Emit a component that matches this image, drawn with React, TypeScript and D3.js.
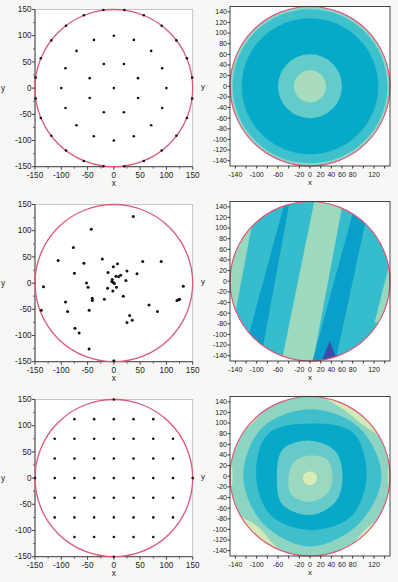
import React from 'react';
import * as d3 from 'd3';

const width = 398;
const height = 582;
const rowStep = 195;
const font = '"Liberation Sans", Arial, sans-serif';
const ringStroke = '#dc5878';

const leftBox = { left: 35, right: 192.7, top: 9.5, bottom: 166.7 };
const rightBox = { left: 230, right: 390, top: 6.5, bottom: 166 };

const leftTicks = [-150, -100, -50, 0, 50, 100, 150];
const leftMinorTicks = [-125, -75, -25, 25, 75, 125];
const rightTicks = [-140, -120, -100, -80, -60, -40, -20, 0, 20, 40, 60, 80, 100, 120, 140];
const rightXLabels = [-140, -100, -60, -20, 0, 20, 40, 60, 80, 120];

// row 1: sites on rings
const ringSites: [number, number][] = [
  [0, 0],
  [46, 19], [19, 46], [-19, 46], [-46, 19], [-46, -19], [-19, -46], [19, -46], [46, -19],
  [100, 0], [92, 38], [71, 71], [38, 92], [0, 100], [-38, 92], [-71, 71], [-92, 38],
  [-100, 0], [-92, -38], [-71, -71], [-38, -92], [0, -100], [38, -92], [71, -71], [92, -38],
  [149, 20], [139, 57], [119, 91], [91, 119], [57, 139], [20, 149],
  [-20, 149], [-57, 139], [-91, 119], [-119, 91], [-139, 57], [-149, 20],
  [-149, -20], [-139, -57], [-119, -91], [-91, -119], [-57, -139], [-20, -149],
  [20, -149], [57, -139], [91, -119], [119, -91], [139, -57], [149, -20],
];

// row 2: scattered sites
const scatterSites: [number, number][] = [
  [37, 127], [-43, 103], [-77, 68], [-106, 43], [-22, 46], [-57, 38], [-75, 19],
  [7, 37], [-1, 31], [-11, 20], [4, 13], [13, 15], [9, 12], [25, 23], [44, 18],
  [55, 41], [90, 41], [23, 5], [-3, 7], [-4, 3], [-1, 1], [1, -1], [-134, -7],
  [-52, 0], [-49, -8], [-12, -10], [5, -8], [-2, -15], [18, -25], [-41, -29],
  [-41, -33], [-18, -31], [-92, -36], [-138, -52], [-88, -54], [-47, -52],
  [67, -42], [83, -54], [30, -62], [35, -71], [25, -75], [-74, -86], [-66, -95],
  [-47, -126], [132, -6], [120, -33], [123, -32], [125, -31], [0, -148],
];

// row 3: regular grid of sites
const gridSites: [number, number][] = [
  [0, 150],
  [-75, 112.5], [-37.5, 112.5], [0, 112.5], [37.5, 112.5], [75, 112.5],
  [-112.5, 75], [-75, 75], [-37.5, 75], [0, 75], [37.5, 75], [75, 75], [112.5, 75],
  [-112.5, 37.5], [-75, 37.5], [-37.5, 37.5], [0, 37.5], [37.5, 37.5], [75, 37.5], [112.5, 37.5],
  [-150, 0], [-112.5, 0], [-75, 0], [-37.5, 0], [0, 0], [37.5, 0], [75, 0], [112.5, 0], [150, 0],
  [-112.5, -37.5], [-75, -37.5], [-37.5, -37.5], [0, -37.5], [37.5, -37.5], [75, -37.5], [112.5, -37.5],
  [-112.5, -75], [-75, -75], [-37.5, -75], [0, -75], [37.5, -75], [75, -75], [112.5, -75],
  [-75, -112.5], [-37.5, -112.5], [0, -112.5], [37.5, -112.5], [75, -112.5],
  [0, -150],
];

// contour 1: concentric bands (outer radius of each band)
const ringBandRadii = [150, 145, 128, 60, 30];
const ringBandColors = ['#8cd4c3', '#3ec0cd', '#05aac8', '#64cbcb', '#a9dcbf'];

// contour 2: tilted stripes over a medium teal base
const stripeBase = '#36bdcd';
const stripeColors = ['#98d8bd', '#0a9fcb', '#9cd9bd', '#0a9fcb', '#3a4ba8', '#98d8bd'];
const stripeShapes: [number, number][][] = [
  [[-104, 131], [-142, -70], [-220, -70], [-220, 131]],
  [[-47, 150], [-38, 150], [-89, -128], [-120, -120]],
  [[9, 155], [63, 155], [4, -160], [-55, -160]],
  [[86, 150], [108, 130], [48, -150], [2, -160]],
  [[37, -113], [18, -160], [56, -160]],
  [[147, 25], [121, -78], [170, -78], [170, 25]],
];

// contour 3: wobbly bands, boundary radius by angle (degrees)
const edgeAngles = [0, 22.5, 45, 67.5, 90, 112.5, 135, 157.5, 180, 202.5, 225, 247.5, 270, 292.5, 315, 337.5];
const bandAngles = [0, 45, 90, 135, 180, 225, 270, 315];
const wobblyBase = '#d3eab6';
const wobblyBands = [
  { color: '#8dd4c3', angles: edgeAngles, radii: [146, 156, 138, 142, 156, 156, 147, 156, 145, 156, 136, 148, 156, 156, 144, 156] },
  { color: '#3fbfcc', angles: bandAngles, radii: [134, 130, 126, 128, 125, 125, 132, 128] },
  { color: '#07a8c8', angles: bandAngles, radii: [106, 115, 99, 112, 101, 104, 101, 108] },
  { color: '#66cacb', angles: bandAngles, radii: [61, 67, 67, 72, 62, 74, 73, 68] },
  { color: '#9ad8c0', angles: bandAngles, radii: [42, 45, 39, 40, 40, 49, 48, 46] },
  { color: '#d8ecb5', angles: bandAngles, radii: [13, 10, 9, 10, 13, 15, 17, 15] },
];

function leftScales(off: number) {
  const x = d3.scaleLinear().domain([-150, 150]).range([leftBox.left, leftBox.right]);
  const y = d3.scaleLinear().domain([-150, 150]).range([leftBox.bottom + off, leftBox.top + off]);
  return { x, y };
}

function rightScales(off: number) {
  const x = d3.scaleLinear().domain([-150, 150]).range([rightBox.left, rightBox.right]);
  const y = d3.scaleLinear().domain([-150, 150]).range([rightBox.bottom + off, rightBox.top + off]);
  return { x, y };
}

function ScatterPanel({ sites, off, r }: { sites: [number, number][]; off: number; r: number }) {
  const { x, y } = leftScales(off);
  const b = y(-150);
  const t = y(150);
  return (
    <g>
      <rect x={x(-150)} y={t} width={x(150) - x(-150)} height={b - t} fill="#fff" stroke="#b8b8b8" strokeWidth={0.8} />
      <line x1={x(-150)} x2={x(150)} y1={b} y2={b} stroke="#444" />
      <line x1={x(-150)} x2={x(-150)} y1={t} y2={b} stroke="#444" />
      <ellipse cx={x(0)} cy={y(0)} rx={x(150) - x(0)} ry={y(0) - y(150)} fill="none" stroke={ringStroke} strokeWidth={1.3} />
      {sites.map(([px, py], i) => (
        <circle key={i} cx={x(px)} cy={y(py)} r={r} fill="#111" />
      ))}
      {leftTicks.map(v => (
        <g key={'t' + v}>
          <line x1={x(-150)} x2={x(-150) - 3} y1={y(v)} y2={y(v)} stroke="#444" />
          <line x1={x(v)} x2={x(v)} y1={b} y2={b + 3} stroke="#444" />
          <text x={x(-150) - 3.5} y={y(v)} dy="0.34em" textAnchor="end" fontSize={8.2} fontFamily={font} fill="#222">{v}</text>
          <text x={x(v)} y={b + 11.5} textAnchor="middle" fontSize={8.2} fontFamily={font} fill="#222">{v}</text>
        </g>
      ))}
      {leftMinorTicks.map(v => (
        <g key={'m' + v}>
          <line x1={x(-150)} x2={x(-150) - 2} y1={y(v)} y2={y(v)} stroke="#666" />
          <line x1={x(v)} x2={x(v)} y1={b} y2={b + 2} stroke="#666" />
        </g>
      ))}
      <text x={x(0)} y={b + 19.5} textAnchor="middle" fontSize={8.2} fontFamily={font} fill="#222">x</text>
      <text x={3} y={y(0)} dy="0.34em" textAnchor="middle" fontSize={8.2} fontFamily={font} fill="#222">y</text>
    </g>
  );
}

function ContourPanel({ off, id, children }: { off: number; id: string; children: (x: any, y: any) => React.ReactNode }) {
  const { x, y } = rightScales(off);
  const b = y(-150);
  const t = y(150);
  const rx = x(150) - x(0);
  const ry = y(0) - y(150);
  return (
    <g>
      <defs>
        <clipPath id={id}>
          <ellipse cx={x(0)} cy={y(0)} rx={rx} ry={ry} />
        </clipPath>
      </defs>
      <rect x={x(-150)} y={t} width={x(150) - x(-150)} height={b - t} fill="#fff" />
      <g clipPath={`url(#${id})`}>{children(x, y)}</g>
      <ellipse cx={x(0)} cy={y(0)} rx={rx} ry={ry} fill="none" stroke={ringStroke} strokeWidth={1.2} />
      <rect x={x(-150)} y={t} width={x(150) - x(-150)} height={b - t} fill="none" stroke="#333" strokeWidth={0.9} />
      {rightTicks.map(v => (
        <g key={'t' + v}>
          <line x1={x(-150)} x2={x(-150) - 2.5} y1={y(v)} y2={y(v)} stroke="#333" />
          <line x1={x(v)} x2={x(v)} y1={b} y2={b + 2.5} stroke="#333" />
          <text x={x(-150) - 3} y={y(v)} dy="0.34em" textAnchor="end" fontSize={7} fontFamily={font} fill="#222">{v}</text>
        </g>
      ))}
      {rightXLabels.map(v => (
        <text key={'l' + v} x={x(v)} y={b + 10.5} textAnchor="middle" fontSize={7} fontFamily={font} fill="#222">{v}</text>
      ))}
      <text x={x(0)} y={b + 19} textAnchor="middle" fontSize={8} fontFamily={font} fill="#222">x</text>
      <text x={203} y={y(0)} dy="0.34em" textAnchor="middle" fontSize={8} fontFamily={font} fill="#222">y</text>
    </g>
  );
}

const shapeLine = d3.line<[number, number]>();
const bandLine = d3.line<[number, number]>().curve(d3.curveCatmullRomClosed);

export default function App() {
  return (
    <svg width={width} height={height} style={{ position: 'absolute', left: 0, top: 0 }}>
      <rect width={width} height={height} fill="#f7f7f5" />

      <ScatterPanel sites={ringSites} off={0} r={1.3} />
      <ScatterPanel sites={scatterSites} off={rowStep} r={1.5} />
      <ScatterPanel sites={gridSites} off={rowStep * 2} r={1.3} />

      <ContourPanel off={0} id="clip-a">
        {(x, y) =>
          ringBandRadii.map((r, i) => (
            <ellipse key={i} cx={x(0)} cy={y(0)} rx={x(r) - x(0)} ry={y(0) - y(r)} fill={ringBandColors[i]} />
          ))
        }
      </ContourPanel>

      <ContourPanel off={rowStep} id="clip-b">
        {(x, y) => (
          <g>
            <rect x={x(-150)} y={y(150)} width={x(150) - x(-150)} height={y(-150) - y(150)} fill={stripeBase} />
            {stripeShapes.map((s, i) => (
              <path key={i} d={shapeLine(s.map(([px, py]) => [x(px), y(py)] as [number, number])) + 'Z'} fill={stripeColors[i]} />
            ))}
          </g>
        )}
      </ContourPanel>

      <ContourPanel off={rowStep * 2} id="clip-c">
        {(x, y) => (
          <g>
            <rect x={x(-150)} y={y(150)} width={x(150) - x(-150)} height={y(-150) - y(150)} fill={wobblyBase} />
            {wobblyBands.map((band, i) => {
              const pts = band.angles.map((a, j) => {
                const rad = (a * Math.PI) / 180;
                return [x(band.radii[j] * Math.cos(rad)), y(band.radii[j] * Math.sin(rad))] as [number, number];
              });
              return <path key={i} d={bandLine(pts) || ''} fill={band.color} />;
            })}
          </g>
        )}
      </ContourPanel>
    </svg>
  );
}
